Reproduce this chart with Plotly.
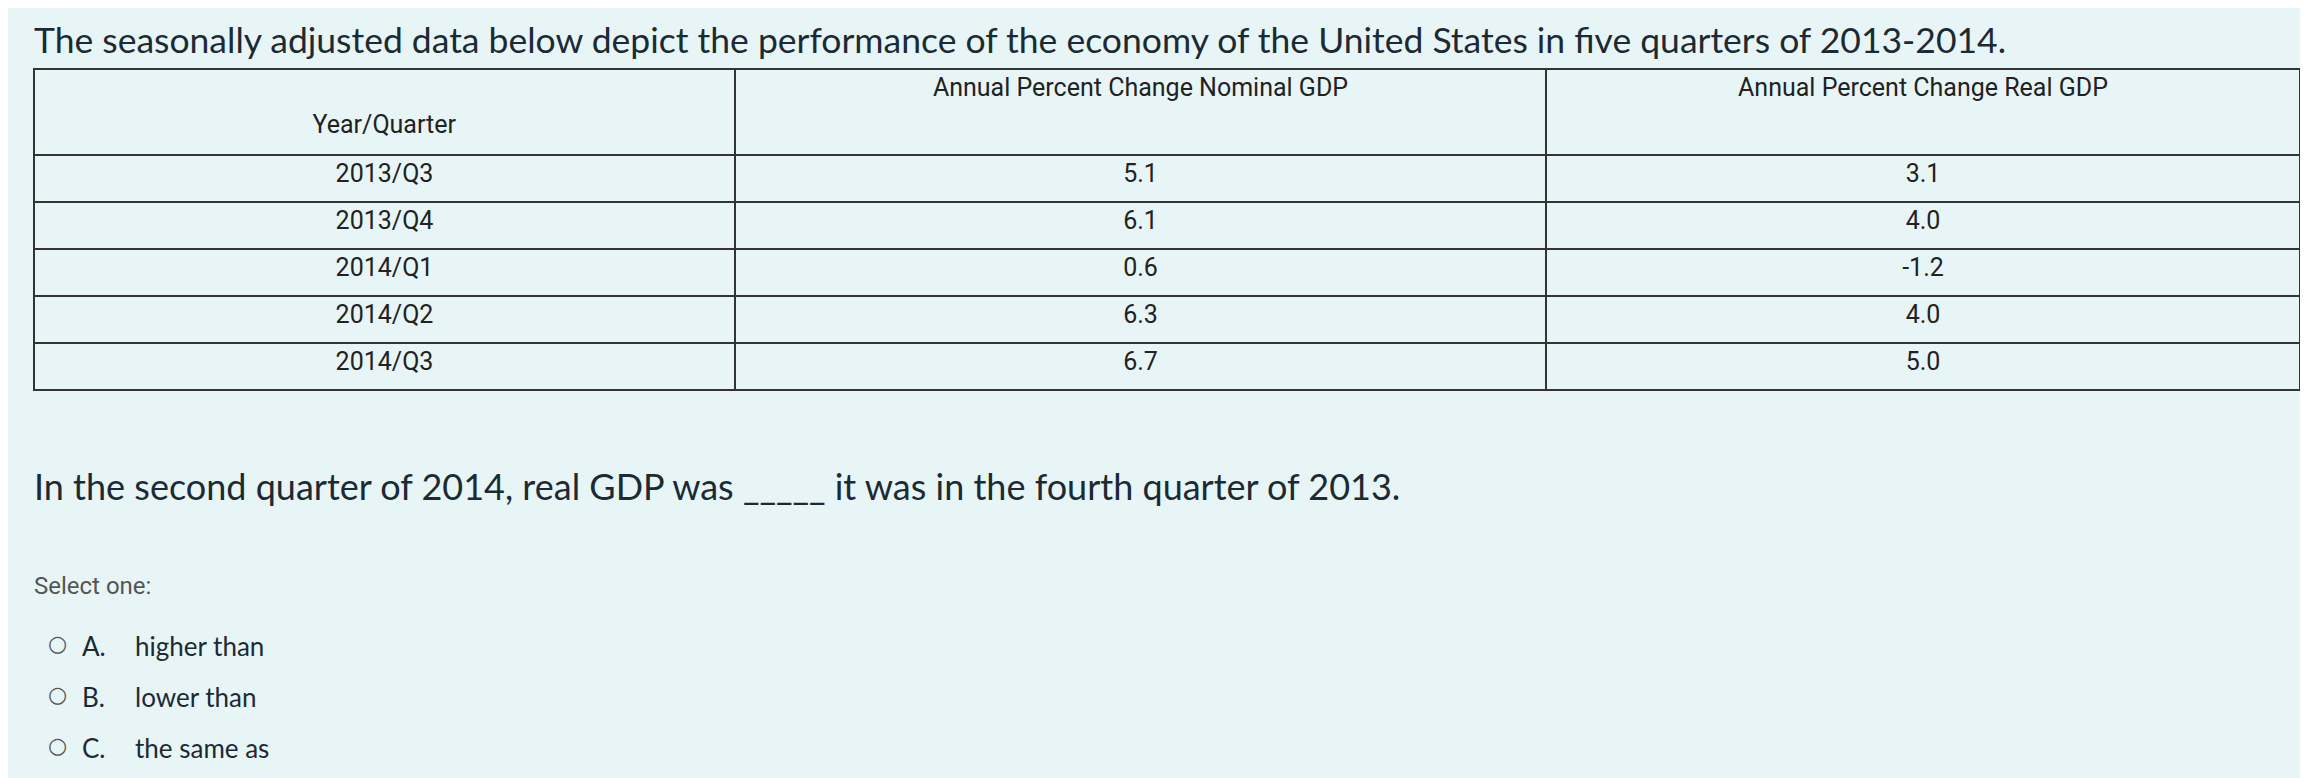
import plotly.graph_objects as go

title = "The seasonally adjusted data below depict the performance of the economy of the United States in five quarters of 2013-2014."
headers = ["\u00a0<br>Year/Quarter", "Annual Percent Change Nominal GDP", "Annual Percent Change Real GDP"]
quarters = ["2013/Q3", "2013/Q4", "2014/Q1", "2014/Q2", "2014/Q3"]
nominal = ["5.1", "6.1", "0.6", "6.3", "6.7"]
real = ["3.1", "4.0", "-1.2", "4.0", "5.0"]
question = "In the second quarter of 2014, real GDP was _____ it was in the fourth quarter of 2013."
letters = ["A.", "B.", "C."]
options = ["higher than", "lower than", "the same as"]

W, H = 2308, 778
bg = "#e8f5f6"
fig = go.Figure()
fig.add_trace(go.Table(
    domain=dict(x=[26 / W, 2292 / W], y=[1 - 400 / H, 1 - 61 / H]),
    columnwidth=[701, 811, 754],
    header=dict(values=headers, height=86, align="center", fill_color=bg,
                line=dict(color="#333333", width=1.5),
                font=dict(family="Roboto", size=25, color="#222222")),
    cells=dict(values=[quarters, nominal, real], height=47, align="center", fill_color=bg,
               line=dict(color="#333333", width=1.5),
               font=dict(family="Roboto", size=25, color="#222222")),
))

def txt(x, y, s, size, color="#1c2b33", family="Lato"):
    fig.add_annotation(x=x / W, y=1 - y / H, xref="paper", yref="paper", text=s,
                       showarrow=False, xanchor="left", yanchor="middle",
                       font=dict(family=family, size=size, color=color))

txt(24, 32, title, 35.5)
txt(24, 478, question, 36)
txt(24, 578, "Select one:", 24, "#555555", "Roboto")
for i, (l, o) in enumerate(zip(letters, options)):
    y = 638 + i * 51
    txt(38, y - 3, "○", 22, "#555555", "DejaVu Sans")
    txt(72, y, l, 26)
    txt(125, y, o, 26)

fig.update_layout(width=W, height=H, margin=dict(l=0, r=0, t=0, b=0),
                  paper_bgcolor=bg, plot_bgcolor=bg)
fig.write_html("out.html")
